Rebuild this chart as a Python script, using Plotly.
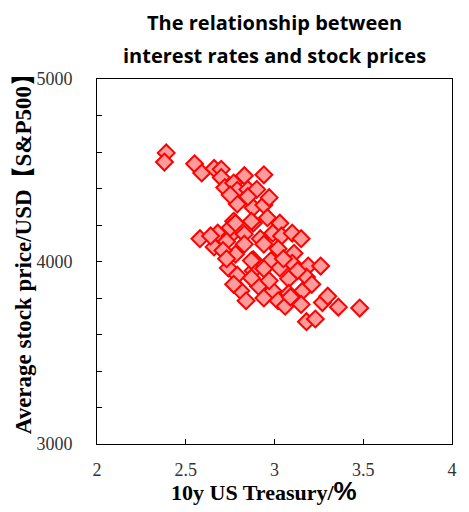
import plotly.graph_objects as go

# 10y US Treasury yield (%) vs average S&P500 price (USD)
treasury_yield = [
    2.39, 2.38, 2.55, 2.59, 2.66, 2.70, 2.70, 2.72, 2.77, 2.83,
    2.94, 2.79, 2.85, 2.90, 2.79, 2.88, 2.94, 2.77, 2.88, 2.96,
    3.03, 2.58, 2.66, 2.68, 2.75, 2.83, 2.92, 2.99, 3.04, 3.10,
    3.15, 2.78, 2.88, 2.94, 3.02, 3.11, 3.10, 2.98, 3.19, 3.26,
    2.74, 2.79, 2.88, 3.03, 3.08, 3.18, 2.81, 2.91, 2.99, 3.08,
    3.16, 2.94, 3.02, 3.15, 3.27, 3.30, 3.36, 3.48, 3.18, 3.23,
    2.64, 2.73, 2.71, 2.75, 2.78, 2.87, 2.83, 2.87, 2.73, 2.87,
    2.94, 2.84, 2.77, 3.06, 3.09, 3.13, 3.05, 2.85, 2.97, 2.75,
    3.21, 2.97,
]
sp500_price = [
    4595, 4545, 4535, 4485, 4510, 4505, 4460, 4405, 4430, 4470,
    4475, 4390, 4395, 4395, 4315, 4295, 4310, 4220, 4210, 4240,
    4210, 4125, 4080, 4155, 4140, 4150, 4125, 4155, 4140, 4155,
    4125, 4040, 4010, 4095, 4070, 4045, 3990, 4005, 3975, 3975,
    3965, 3925, 3950, 3965, 3905, 3915, 3840, 3865, 3840, 3825,
    3840, 3800, 3785, 3765, 3775, 3810, 3750, 3745, 3670, 3685,
    4140, 4110, 4060, 4185, 4210, 4220, 4095, 4005, 4015, 3910,
    3960, 3785, 3875, 3755, 3805, 3950, 4015, 4355, 4350, 4365,
    3875, 3895,
]
title_lines = ["The relationship between", "interest rates and stock prices"]
x_title = "<b>10y US Treasury/<span style='font-family:Liberation Sans;font-size:26px'>%</span></b>"
y_title = "<b>Average stock price/USD【S&P500】</b>"

serif = "Liberation Serif, Times New Roman, serif"
sans = "Open Sans, sans-serif"

fig = go.Figure(
    go.Scatter(
        x=treasury_yield,
        y=sp500_price,
        mode="markers",
        marker=dict(
            symbol="diamond",
            size=13,
            color="#FF9B9B",
            line=dict(color="#FF0000", width=2),
        ),
    )
)

# two title lines, placed separately to get the wide line spacing
for i, line in enumerate(title_lines):
    fig.add_annotation(
        text="<b>" + line + "</b>",
        xref="paper", yref="paper",
        x=0.5, y=1 + (56 - 33 * i) / 365,
        xanchor="center", yanchor="middle",
        showarrow=False,
        font=dict(family=sans, size=20, color="black"),
    )

# axis titles as annotations so they sit where the original has them
fig.add_annotation(
    text=x_title,
    xref="paper", yref="paper",
    x=0.47, y=-0.129,
    xanchor="center", yanchor="middle",
    showarrow=False,
    font=dict(family=serif, size=22, color="black"),
)
fig.add_annotation(
    text=y_title,
    xref="paper", yref="paper",
    x=-0.208, y=0.534,
    xanchor="center", yanchor="middle",
    textangle=-90,
    showarrow=False,
    font=dict(family=serif, size=23, color="black"),
)

# page body adds ~8px offset, so margins are trimmed on left/top
fig.update_layout(
    width=469,
    height=512,
    margin=dict(l=89, r=25, t=71, b=76),
    paper_bgcolor="white",
    plot_bgcolor="white",
    showlegend=False,
)

fig.update_xaxes(
    range=[2, 4],
    dtick=0.5,
    automargin=False,
    showgrid=False,
    zeroline=False,
    showline=True,
    linecolor="black",
    linewidth=1,
    mirror=True,
    ticks="inside",
    ticklen=5,
    tickcolor="black",
    tickfont=dict(family=serif, size=18, color="#333"),
    ticklabelstandoff=9,
)

fig.update_yaxes(
    range=[3000, 5000],
    dtick=1000,
    automargin=False,
    showgrid=False,
    zeroline=False,
    showline=True,
    linecolor="black",
    linewidth=1,
    mirror=True,
    ticks="inside",
    ticklen=5,
    tickcolor="black",
    minor=dict(dtick=200, ticks="inside", ticklen=5, tickcolor="black", showgrid=False),
    tickfont=dict(family=serif, size=18, color="#333"),
    ticklabelstandoff=20,
)

fig.write_html("out.html")
